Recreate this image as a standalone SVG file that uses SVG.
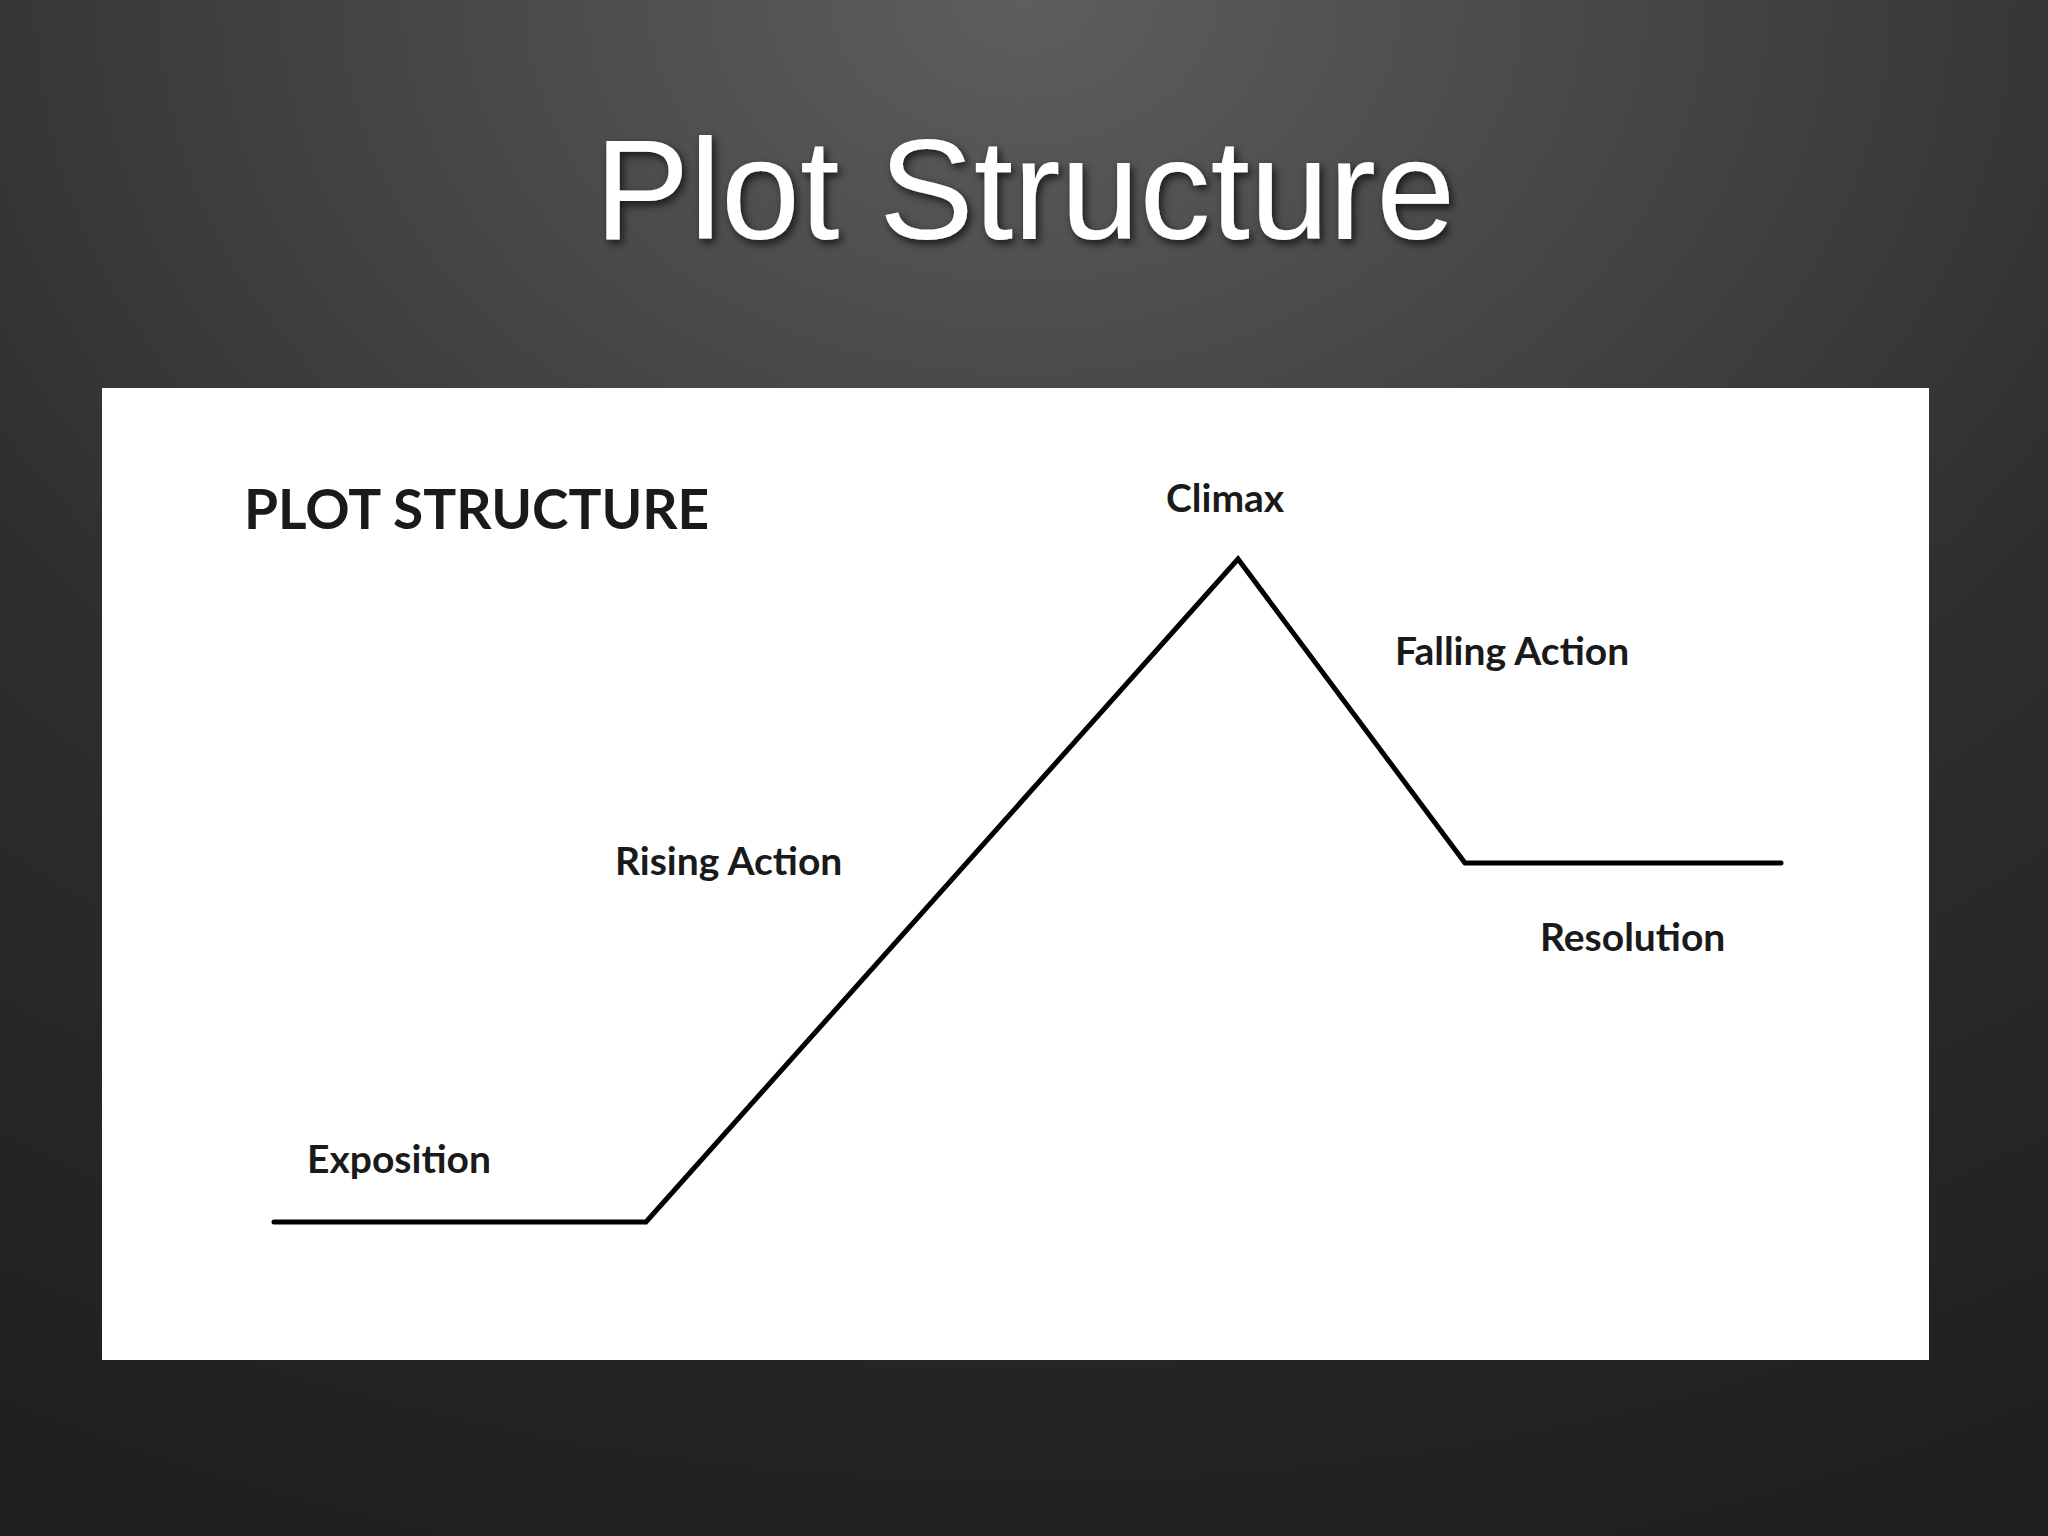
<svg xmlns="http://www.w3.org/2000/svg" width="2048" height="1536" viewBox="0 0 2048 1536">
<defs>
<radialGradient id="bg" cx="0.5" cy="0" r="1.1">
<stop offset="0" stop-color="#5e5e5e"/>
<stop offset="0.55" stop-color="#2e2e2e"/>
<stop offset="1" stop-color="#1e1e1e"/>
</radialGradient>
<filter id="sh"><feDropShadow dx="3" dy="4" stdDeviation="4" flood-color="#000" flood-opacity="0.7"/></filter>
<style>
.lbl{font-family:"Lato","Open Sans","Liberation Sans",sans-serif;font-weight:bold;font-size:39px;fill:#1a1a1a}
.ln{fill:none;stroke:#000;stroke-width:5;stroke-linejoin:miter;stroke-linecap:round}
</style>
</defs>
<rect width="2048" height="1536" fill="url(#bg)"/>
<text x="1025" y="239" text-anchor="middle" font-family="Liberation Sans, Arial, sans-serif" font-size="142" fill="#fff" filter="url(#sh)">Plot Structure</text>
<rect x="102" y="388" width="1827" height="972" fill="#fff"/>
<text x="244" y="529" font-family="Lato, Liberation Sans, sans-serif" font-weight="bold" font-size="55" fill="#1a1a1a">PLOT STRUCTURE</text>
<g id="connectors">
<polyline class="ln" points="274,1222 646,1222 1238,559 1465,863 1781,863"/>
</g>
<g id="climax"><text class="lbl" x="1166" y="512">Climax</text></g>
<g id="falling"><text class="lbl" x="1395" y="665">Falling Action</text></g>
<g id="rising"><text class="lbl" x="615" y="875">Rising Action</text></g>
<g id="exposition"><text class="lbl" x="307" y="1173">Exposition</text></g>
<g id="resolution"><text class="lbl" x="1540" y="951">Resolution</text></g>
</svg>
